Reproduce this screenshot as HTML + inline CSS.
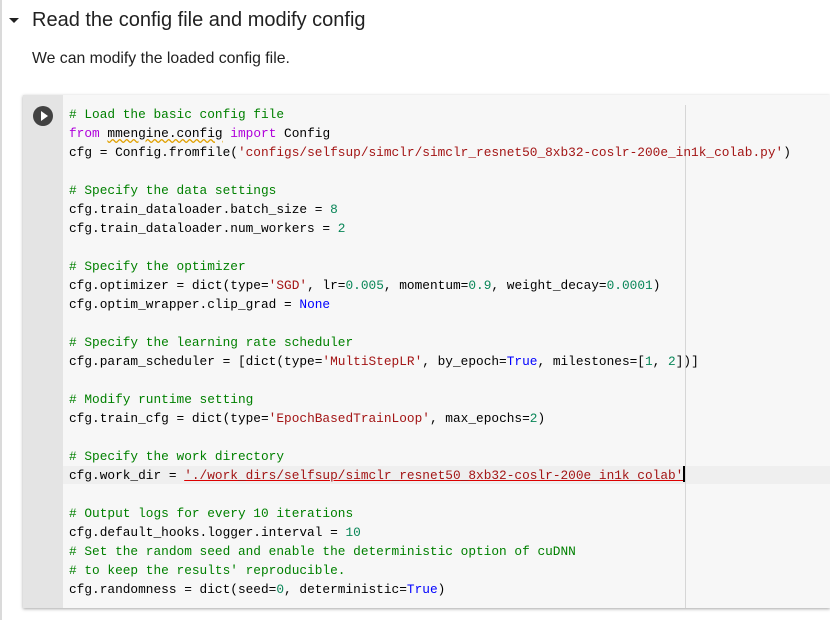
<!DOCTYPE html>
<html><head><style>
body{margin:0;width:830px;height:620px;background:#fff;position:relative;overflow:hidden;font-family:"Liberation Sans",sans-serif;}
.lb{position:absolute;left:0;top:0;width:2px;height:620px;background:#dadada}
.tri{position:absolute;left:9px;top:18px;width:0;height:0;border-left:5px solid transparent;border-right:5px solid transparent;border-top:5px solid #212121}
.title{position:absolute;left:32px;top:9px;font-size:20px;color:#212121;white-space:nowrap}
.sub{position:absolute;left:32px;top:50px;font-size:15.8px;color:#212121;white-space:nowrap}
.cell{position:absolute;left:23px;top:95px;width:807px;height:513px;background:#f7f7f7;box-shadow:0 1px 3px rgba(0,0,0,.35)}
.gut{position:absolute;left:0;top:0;width:40px;height:513px;background:#e4e4e4}
.run{position:absolute;left:10px;top:11px;width:20px;height:20px;border-radius:50%;background:#424242}
.run:after{content:"";position:absolute;left:8px;top:5px;border-top:5px solid transparent;border-bottom:5px solid transparent;border-left:7px solid #fff}
.ruler{position:absolute;left:662px;top:10px;width:1px;height:503px;background:#d6d6d6}
.cur{position:absolute;left:40px;top:371px;width:767px;height:18px;background:#efefef}
pre{position:absolute;left:46px;top:10px;margin:0;font-family:"Liberation Mono",monospace;font-size:12.8px;line-height:19px;color:#000}
.c{color:#008000}.k{color:#af00db}.s{color:#a31515}.n{color:#098658}.b{color:#0000ff}
.u{text-decoration:underline;text-decoration-color:#d00}
.caret{display:inline-block;width:2px;height:16px;background:#000;vertical-align:-3px}
</style></head><body>
<div class="lb"></div>
<div class="tri"></div>
<div class="title">Read the config file and modify config</div>
<div class="sub">We can modify the loaded config file.</div>
<div class="cell">
<div class="gut"></div><div class="run"></div>
<div class="cur"></div>
<div class="ruler"></div>
<pre><span class="c"># Load the basic config file</span>
<span class="k">from</span> <span style="text-decoration:underline wavy #e0a000">mmengine.config</span> <span class="k">import</span> Config
cfg = Config.fromfile(<span class="s">'configs/selfsup/simclr/simclr_resnet50_8xb32-coslr-200e_in1k_colab.py'</span>)

<span class="c"># Specify the data settings</span>
cfg.train_dataloader.batch_size = <span class="n">8</span>
cfg.train_dataloader.num_workers = <span class="n">2</span>

<span class="c"># Specify the optimizer</span>
cfg.optimizer = dict(type=<span class="s">'SGD'</span>, lr=<span class="n">0.005</span>, momentum=<span class="n">0.9</span>, weight_decay=<span class="n">0.0001</span>)
cfg.optim_wrapper.clip_grad = <span class="b">None</span>

<span class="c"># Specify the learning rate scheduler</span>
cfg.param_scheduler = [dict(type=<span class="s">'MultiStepLR'</span>, by_epoch=<span class="b">True</span>, milestones=[<span class="n">1</span>, <span class="n">2</span>])]

<span class="c"># Modify runtime setting</span>
cfg.train_cfg = dict(type=<span class="s">'EpochBasedTrainLoop'</span>, max_epochs=<span class="n">2</span>)

<span class="c"># Specify the work directory</span>
cfg.work_dir = <span class="s u">'./work_dirs/selfsup/simclr_resnet50_8xb32-coslr-200e_in1k_colab'</span><span class="caret"></span>

<span class="c"># Output logs for every 10 iterations</span>
cfg.default_hooks.logger.interval = <span class="n">10</span>
<span class="c"># Set the random seed and enable the deterministic option of cuDNN</span>
<span class="c"># to keep the results' reproducible.</span>
cfg.randomness = dict(seed=<span class="n">0</span>, deterministic=<span class="b">True</span>)</pre>
</div>
</body></html>
